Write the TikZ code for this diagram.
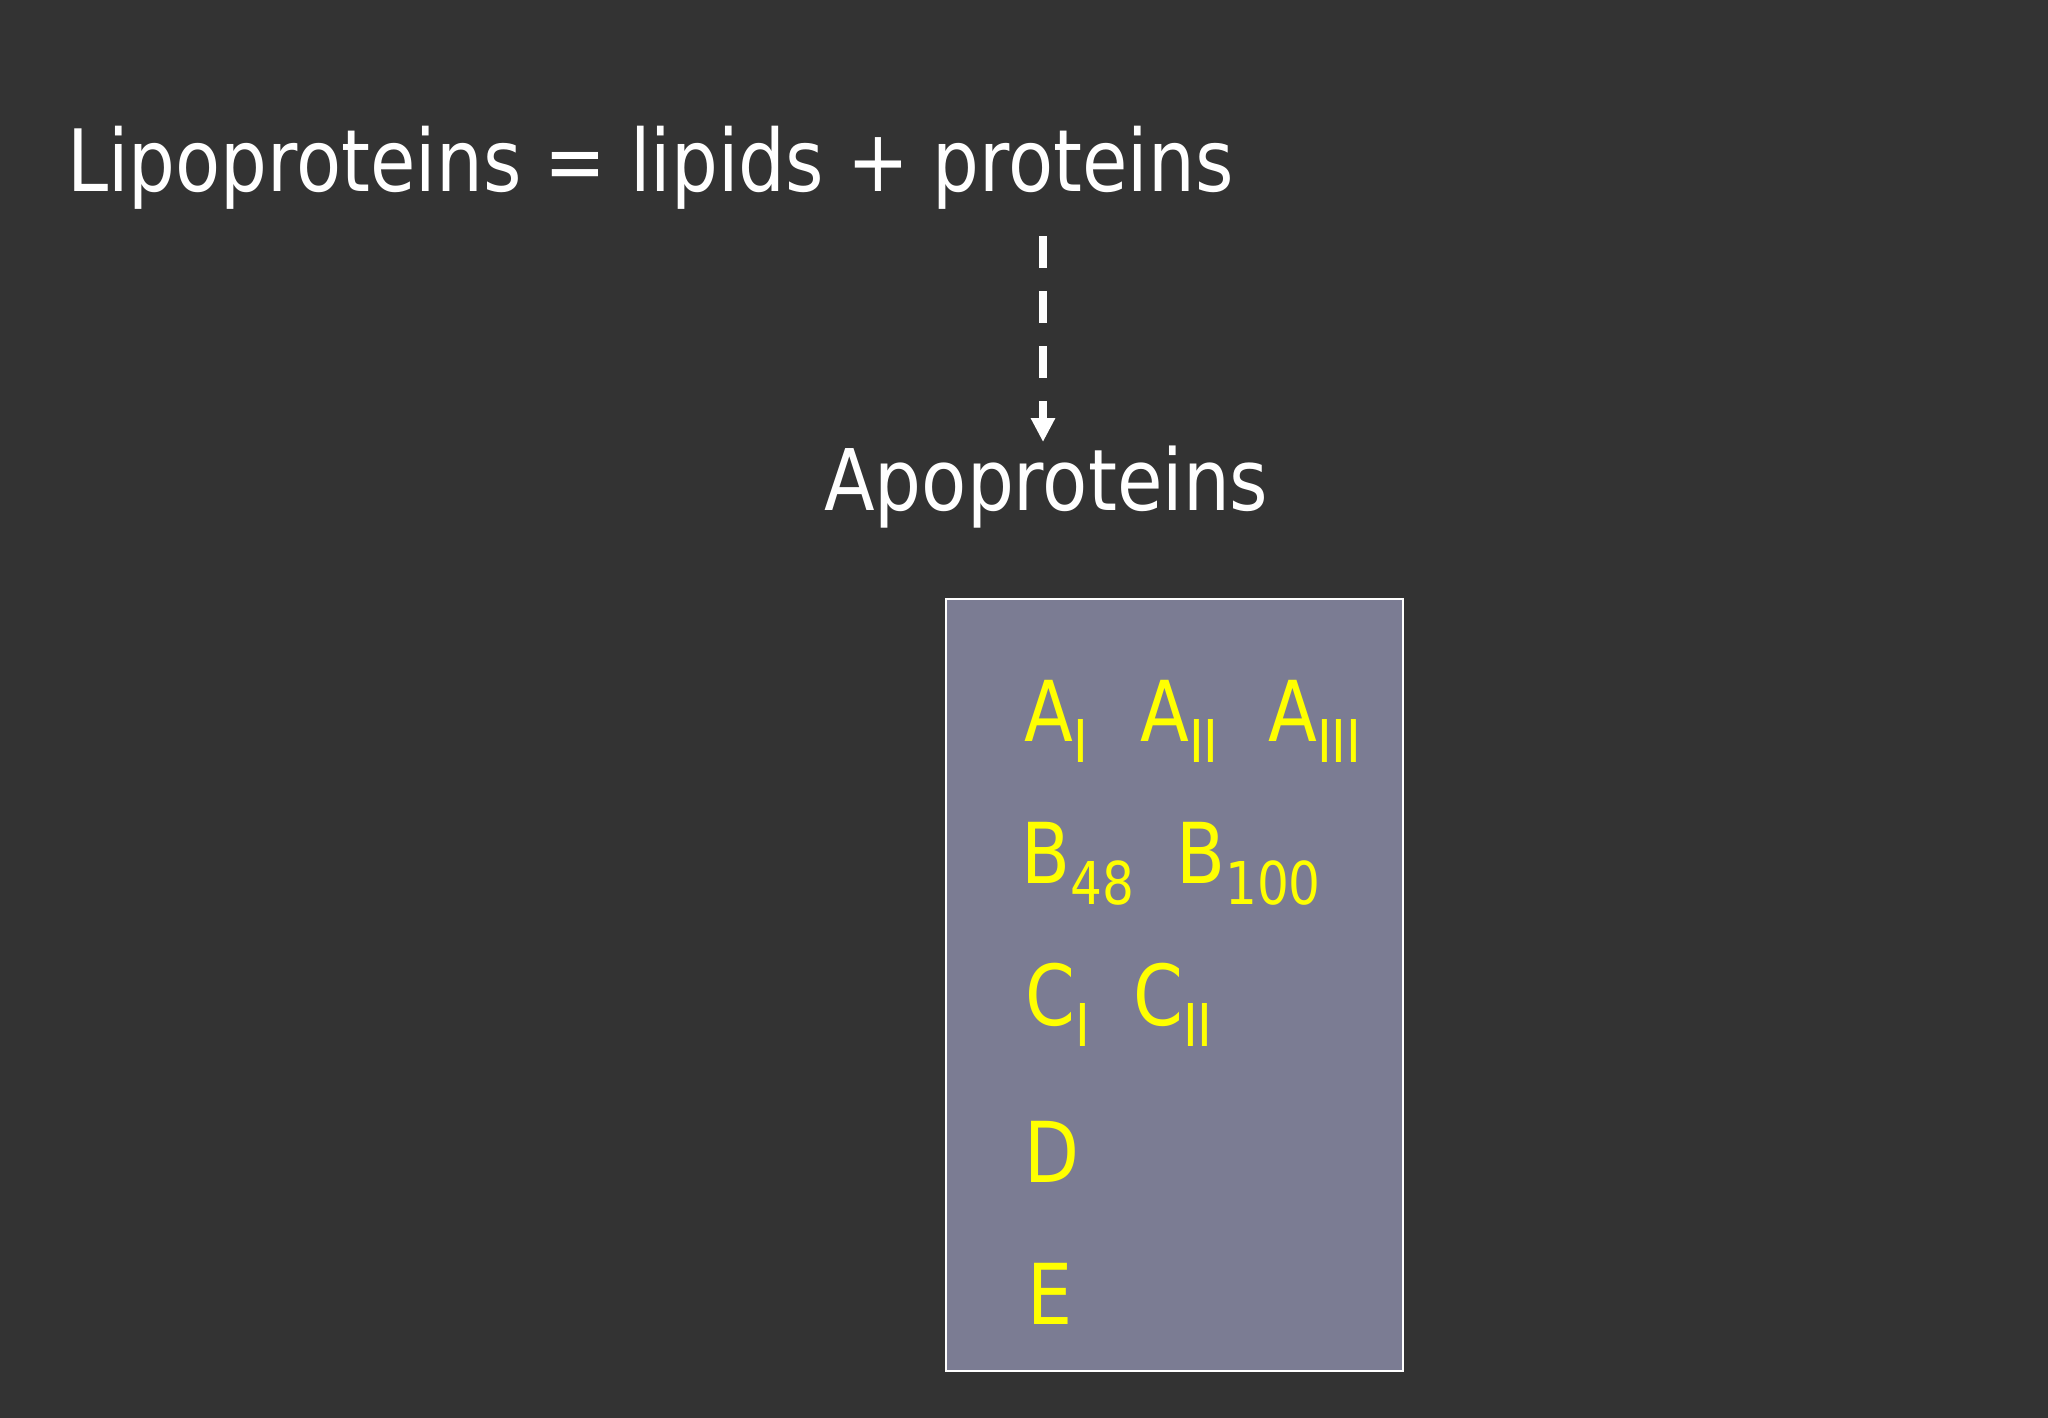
\documentclass[tikz,border=0pt]{standalone}
\usepackage{fontspec}
\setmainfont{DejaVu Sans}[FakeStretch=0.85]
\newfontfamily\titlefont{DejaVu Sans}[FakeStretch=0.858]
\newfontfamily\apofont{DejaVu Sans}[FakeStretch=0.87]
\usetikzlibrary{arrows.meta}
\definecolor{bgcol}{RGB}{51,51,51}
\definecolor{boxcol}{RGB}{123,124,147}
\definecolor{apoyellow}{RGB}{255,255,0}
\newcommand\apsub[1]{\raisebox{-21pt}{\fontsize{59}{60}\selectfont #1}}
\begin{document}
\begin{tikzpicture}[x=1pt,y=-1pt,
  txt/.style={inner sep=0pt, anchor=base west, text=white},
  apo/.style={inner sep=0pt, anchor=base west, text=apoyellow, font=\fontsize{84}{86}\selectfont},
  dasharrow/.style={draw=white, line width=8pt, dash pattern=on 32pt off 23pt,
    -{Triangle[width=23pt,length=24pt]}}]
\fill[bgcol] (0,0) rectangle (2048,1418);
\useasboundingbox (0,0) rectangle (2048,1418);

\node[txt, font=\titlefont\fontsize{86}{88}\selectfont] (title) at (67,191) {Lipoproteins = lipids + proteins};
\node[txt, font=\apofont\fontsize{85}{87}\selectfont] (apoprot) at (824,510) {Apoproteins};

\coordinate (arrtop) at (1043,236);
\coordinate (arrbot) at (1043,442);
\draw[dasharrow] (arrtop) -- (arrbot);

\node[draw=white, fill=boxcol, line width=1.5pt, inner sep=0pt, anchor=north west,
  minimum width=457pt, minimum height=772pt] (box) at (945,598) {};

\node[apo] (ai) at (1024,741) {A\apsub{I}};
\node[apo] (aii) at (1140,741) {A\apsub{II}};
\node[apo] (aiii) at (1268,741) {A\apsub{III}};
\node[apo] (b48) at (1021,883) {B\apsub{48}};
\node[apo] (b100) at (1176,883) {B\apsub{100}};
\node[apo] (ci) at (1025,1025) {C\apsub{I}};
\node[apo] (cii) at (1133,1025) {C\apsub{II}};
\node[apo] (d) at (1024,1182) {D};
\node[apo] (e) at (1027,1324) {E};
\end{tikzpicture}
\end{document}
